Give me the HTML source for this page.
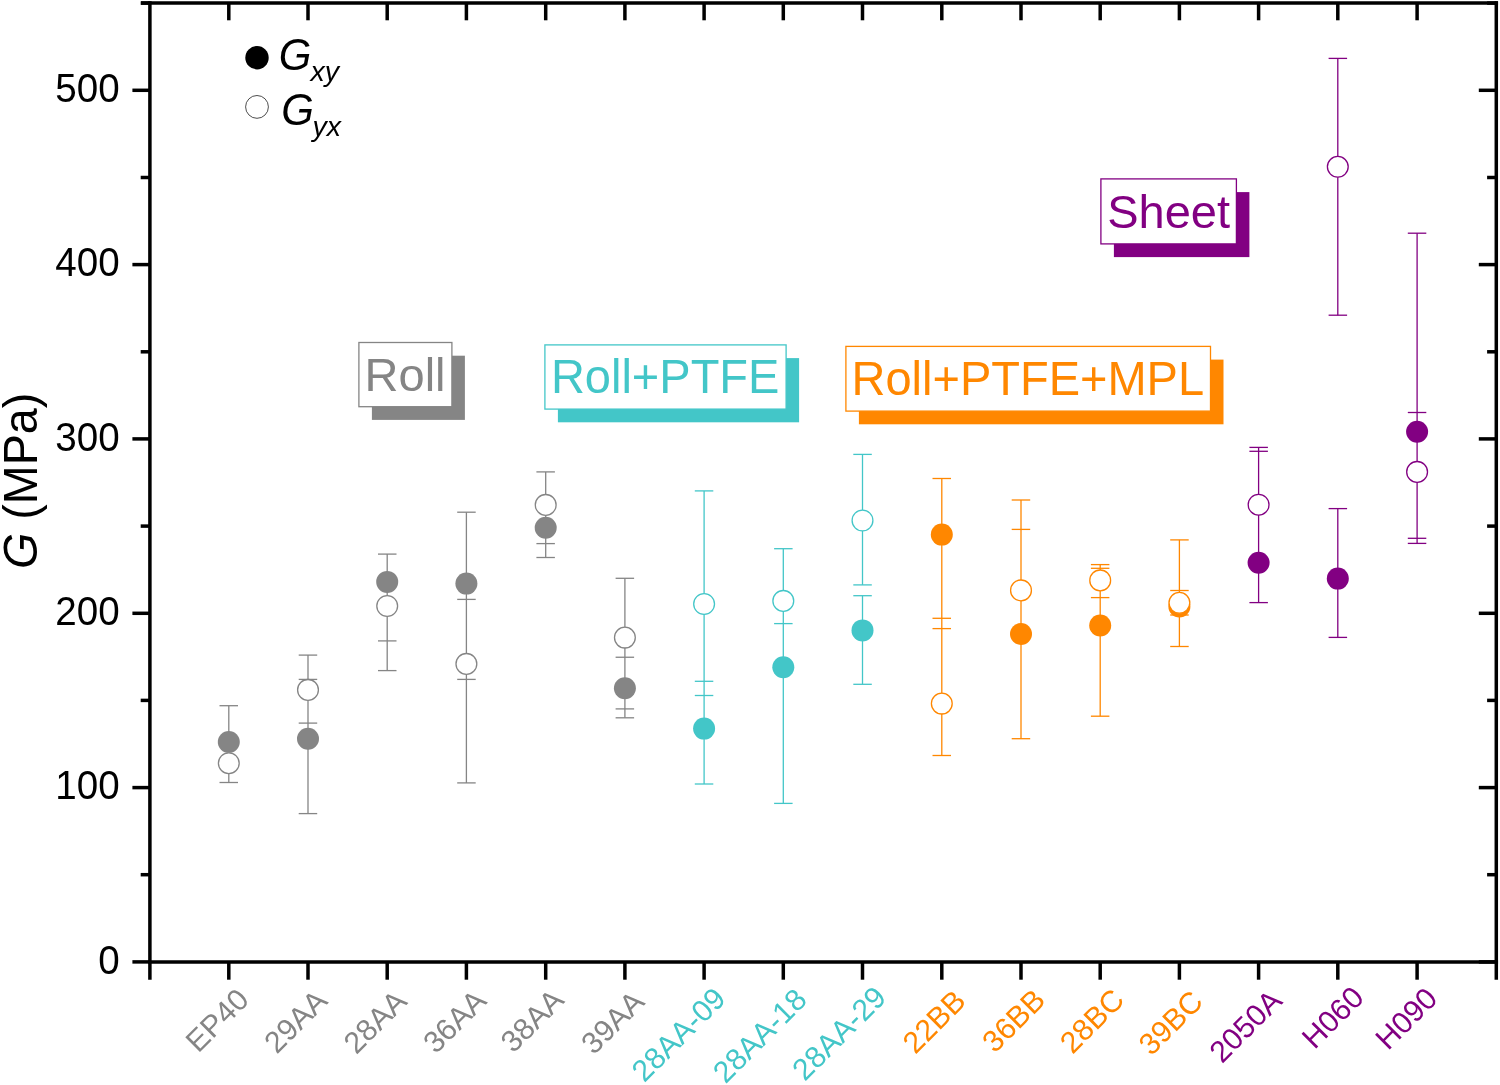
<!DOCTYPE html>
<html><head><meta charset="utf-8"><title>G (MPa) chart</title>
<style>html,body{margin:0;padding:0;background:#fff;}svg{display:block;}</style>
</head><body>
<svg width="1500" height="1085" viewBox="0 0 1500 1085">
<rect width="1500" height="1085" fill="#fff"/>
<g stroke="#000" stroke-width="3.5" fill="none" stroke-linecap="butt">
<line x1="141" y1="2.9" x2="1498.05" y2="2.9"/>
<line x1="149.9" y1="1.15" x2="149.9" y2="979.7"/>
<line x1="1496.3" y1="1.15" x2="1496.3" y2="979.7"/>
<line x1="148.15" y1="961.9" x2="1498.05" y2="961.9"/>
<line x1="228.8" y1="961.9" x2="228.8" y2="979.7"/>
<line x1="228.8" y1="2.9" x2="228.8" y2="20.3"/>
<line x1="308.0" y1="961.9" x2="308.0" y2="979.7"/>
<line x1="308.0" y1="2.9" x2="308.0" y2="20.3"/>
<line x1="387.2" y1="961.9" x2="387.2" y2="979.7"/>
<line x1="387.2" y1="2.9" x2="387.2" y2="20.3"/>
<line x1="466.4" y1="961.9" x2="466.4" y2="979.7"/>
<line x1="466.4" y1="2.9" x2="466.4" y2="20.3"/>
<line x1="545.7" y1="961.9" x2="545.7" y2="979.7"/>
<line x1="545.7" y1="2.9" x2="545.7" y2="20.3"/>
<line x1="624.9" y1="961.9" x2="624.9" y2="979.7"/>
<line x1="624.9" y1="2.9" x2="624.9" y2="20.3"/>
<line x1="704.1" y1="961.9" x2="704.1" y2="979.7"/>
<line x1="704.1" y1="2.9" x2="704.1" y2="20.3"/>
<line x1="783.3" y1="961.9" x2="783.3" y2="979.7"/>
<line x1="783.3" y1="2.9" x2="783.3" y2="20.3"/>
<line x1="862.5" y1="961.9" x2="862.5" y2="979.7"/>
<line x1="862.5" y1="2.9" x2="862.5" y2="20.3"/>
<line x1="941.8" y1="961.9" x2="941.8" y2="979.7"/>
<line x1="941.8" y1="2.9" x2="941.8" y2="20.3"/>
<line x1="1021.0" y1="961.9" x2="1021.0" y2="979.7"/>
<line x1="1021.0" y1="2.9" x2="1021.0" y2="20.3"/>
<line x1="1100.2" y1="961.9" x2="1100.2" y2="979.7"/>
<line x1="1100.2" y1="2.9" x2="1100.2" y2="20.3"/>
<line x1="1179.4" y1="961.9" x2="1179.4" y2="979.7"/>
<line x1="1179.4" y1="2.9" x2="1179.4" y2="20.3"/>
<line x1="1258.6" y1="961.9" x2="1258.6" y2="979.7"/>
<line x1="1258.6" y1="2.9" x2="1258.6" y2="20.3"/>
<line x1="1337.8" y1="961.9" x2="1337.8" y2="979.7"/>
<line x1="1337.8" y1="2.9" x2="1337.8" y2="20.3"/>
<line x1="1417.1" y1="961.9" x2="1417.1" y2="979.7"/>
<line x1="1417.1" y1="2.9" x2="1417.1" y2="20.3"/>
<line x1="132.4" y1="961.9" x2="149.9" y2="961.9"/>
<line x1="1496.3" y1="961.9" x2="1478.8" y2="961.9"/>
<line x1="140.70000000000002" y1="874.7" x2="149.9" y2="874.7"/>
<line x1="1496.3" y1="874.7" x2="1487.1" y2="874.7"/>
<line x1="132.4" y1="787.6" x2="149.9" y2="787.6"/>
<line x1="1496.3" y1="787.6" x2="1478.8" y2="787.6"/>
<line x1="140.70000000000002" y1="700.4" x2="149.9" y2="700.4"/>
<line x1="1496.3" y1="700.4" x2="1487.1" y2="700.4"/>
<line x1="132.4" y1="613.3" x2="149.9" y2="613.3"/>
<line x1="1496.3" y1="613.3" x2="1478.8" y2="613.3"/>
<line x1="140.70000000000002" y1="526.1" x2="149.9" y2="526.1"/>
<line x1="1496.3" y1="526.1" x2="1487.1" y2="526.1"/>
<line x1="132.4" y1="438.9" x2="149.9" y2="438.9"/>
<line x1="1496.3" y1="438.9" x2="1478.8" y2="438.9"/>
<line x1="140.70000000000002" y1="351.8" x2="149.9" y2="351.8"/>
<line x1="1496.3" y1="351.8" x2="1487.1" y2="351.8"/>
<line x1="132.4" y1="264.6" x2="149.9" y2="264.6"/>
<line x1="1496.3" y1="264.6" x2="1478.8" y2="264.6"/>
<line x1="140.70000000000002" y1="177.5" x2="149.9" y2="177.5"/>
<line x1="1496.3" y1="177.5" x2="1487.1" y2="177.5"/>
<line x1="132.4" y1="90.3" x2="149.9" y2="90.3"/>
<line x1="1496.3" y1="90.3" x2="1478.8" y2="90.3"/>
<line x1="140.70000000000002" y1="3.1" x2="149.9" y2="3.1"/>
<line x1="1496.3" y1="3.1" x2="1487.1" y2="3.1"/>
</g>
<g font-family="'Liberation Sans', Arial, sans-serif" font-size="38.6" fill="#000" text-anchor="end">
<text transform="translate(119.6,973.5) scale(1,1.035)">0</text>
<text transform="translate(119.6,799.2) scale(1,1.035)">100</text>
<text transform="translate(119.6,624.9) scale(1,1.035)">200</text>
<text transform="translate(119.6,450.5) scale(1,1.035)">300</text>
<text transform="translate(119.6,276.2) scale(1,1.035)">400</text>
<text transform="translate(119.6,101.9) scale(1,1.035)">500</text>
</g>
<text transform="translate(36.6,480.9) rotate(-90) scale(1,1.04)" font-family="'Liberation Sans', Arial, sans-serif" font-size="46.7" text-anchor="middle" fill="#000"><tspan font-style="italic">G</tspan> (MPa)</text>
<g stroke="#858585" stroke-width="1.3" fill="none">
<line x1="228.8" y1="705.7" x2="228.8" y2="782.5"/>
<line x1="219.5" y1="705.7" x2="238.0" y2="705.7"/>
<line x1="219.5" y1="782.5" x2="238.0" y2="782.5"/>
</g>
<g stroke="#858585" stroke-width="1.3" fill="none">
<line x1="308.0" y1="655.1" x2="308.0" y2="813.6"/>
<line x1="298.7" y1="655.1" x2="317.2" y2="655.1"/>
<line x1="298.7" y1="679.4" x2="317.2" y2="679.4"/>
<line x1="298.7" y1="723.1" x2="317.2" y2="723.1"/>
<line x1="298.7" y1="813.6" x2="317.2" y2="813.6"/>
</g>
<g stroke="#858585" stroke-width="1.3" fill="none">
<line x1="387.2" y1="554.1" x2="387.2" y2="670.6"/>
<line x1="378.0" y1="554.1" x2="396.5" y2="554.1"/>
<line x1="378.0" y1="640.9" x2="396.5" y2="640.9"/>
<line x1="378.0" y1="670.6" x2="396.5" y2="670.6"/>
</g>
<g stroke="#858585" stroke-width="1.3" fill="none">
<line x1="466.4" y1="512.2" x2="466.4" y2="782.9"/>
<line x1="457.2" y1="512.2" x2="475.7" y2="512.2"/>
<line x1="457.2" y1="599.4" x2="475.7" y2="599.4"/>
<line x1="457.2" y1="679.4" x2="475.7" y2="679.4"/>
<line x1="457.2" y1="782.9" x2="475.7" y2="782.9"/>
</g>
<g stroke="#858585" stroke-width="1.3" fill="none">
<line x1="545.7" y1="471.9" x2="545.7" y2="557.5"/>
<line x1="536.4" y1="471.9" x2="554.9" y2="471.9"/>
<line x1="536.4" y1="543.6" x2="554.9" y2="543.6"/>
<line x1="536.4" y1="557.5" x2="554.9" y2="557.5"/>
</g>
<g stroke="#858585" stroke-width="1.3" fill="none">
<line x1="624.9" y1="578.3" x2="624.9" y2="717.8"/>
<line x1="615.6" y1="578.3" x2="634.1" y2="578.3"/>
<line x1="615.6" y1="657.25" x2="634.1" y2="657.25"/>
<line x1="615.6" y1="708.9" x2="634.1" y2="708.9"/>
<line x1="615.6" y1="717.8" x2="634.1" y2="717.8"/>
</g>
<g stroke="#43C6C8" stroke-width="1.3" fill="none">
<line x1="704.1" y1="490.9" x2="704.1" y2="784.0"/>
<line x1="694.8" y1="490.9" x2="713.3" y2="490.9"/>
<line x1="694.8" y1="681.3" x2="713.3" y2="681.3"/>
<line x1="694.8" y1="695.5" x2="713.3" y2="695.5"/>
<line x1="694.8" y1="784.0" x2="713.3" y2="784.0"/>
</g>
<g stroke="#43C6C8" stroke-width="1.3" fill="none">
<line x1="783.3" y1="548.7" x2="783.3" y2="803.4"/>
<line x1="774.1" y1="548.7" x2="792.6" y2="548.7"/>
<line x1="774.1" y1="623.6" x2="792.6" y2="623.6"/>
<line x1="774.1" y1="803.4" x2="792.6" y2="803.4"/>
</g>
<g stroke="#43C6C8" stroke-width="1.3" fill="none">
<line x1="862.5" y1="454.4" x2="862.5" y2="584.9"/>
<line x1="862.5" y1="595.7" x2="862.5" y2="684.3"/>
<line x1="853.3" y1="454.4" x2="871.8" y2="454.4"/>
<line x1="853.3" y1="584.9" x2="871.8" y2="584.9"/>
<line x1="853.3" y1="595.7" x2="871.8" y2="595.7"/>
<line x1="853.3" y1="684.3" x2="871.8" y2="684.3"/>
</g>
<g stroke="#FF8700" stroke-width="1.3" fill="none">
<line x1="941.8" y1="478.5" x2="941.8" y2="755.5"/>
<line x1="932.5" y1="478.5" x2="951.0" y2="478.5"/>
<line x1="932.5" y1="618.3" x2="951.0" y2="618.3"/>
<line x1="932.5" y1="628.6" x2="951.0" y2="628.6"/>
<line x1="932.5" y1="755.5" x2="951.0" y2="755.5"/>
</g>
<g stroke="#FF8700" stroke-width="1.3" fill="none">
<line x1="1021.0" y1="500.0" x2="1021.0" y2="738.7"/>
<line x1="1011.7" y1="500.0" x2="1030.2" y2="500.0"/>
<line x1="1011.7" y1="529.4" x2="1030.2" y2="529.4"/>
<line x1="1011.7" y1="738.7" x2="1030.2" y2="738.7"/>
</g>
<g stroke="#FF8700" stroke-width="1.3" fill="none">
<line x1="1100.2" y1="564.6" x2="1100.2" y2="716.2"/>
<line x1="1090.9" y1="564.6" x2="1109.4" y2="564.6"/>
<line x1="1090.9" y1="568.3" x2="1109.4" y2="568.3"/>
<line x1="1090.9" y1="597.6" x2="1109.4" y2="597.6"/>
<line x1="1090.9" y1="716.2" x2="1109.4" y2="716.2"/>
</g>
<g stroke="#FF8700" stroke-width="1.3" fill="none">
<line x1="1179.4" y1="539.9" x2="1179.4" y2="646.5"/>
<line x1="1170.2" y1="539.9" x2="1188.7" y2="539.9"/>
<line x1="1170.2" y1="590.5" x2="1188.7" y2="590.5"/>
<line x1="1170.2" y1="615.0" x2="1188.7" y2="615.0"/>
<line x1="1170.2" y1="646.5" x2="1188.7" y2="646.5"/>
</g>
<g stroke="#820082" stroke-width="1.3" fill="none">
<line x1="1258.6" y1="447.4" x2="1258.6" y2="602.6"/>
<line x1="1249.4" y1="447.4" x2="1267.9" y2="447.4"/>
<line x1="1249.4" y1="451.3" x2="1267.9" y2="451.3"/>
<line x1="1249.4" y1="602.6" x2="1267.9" y2="602.6"/>
</g>
<g stroke="#820082" stroke-width="1.3" fill="none">
<line x1="1337.8" y1="58.4" x2="1337.8" y2="315.2"/>
<line x1="1337.8" y1="508.6" x2="1337.8" y2="637.4"/>
<line x1="1328.6" y1="58.4" x2="1347.1" y2="58.4"/>
<line x1="1328.6" y1="315.2" x2="1347.1" y2="315.2"/>
<line x1="1328.6" y1="508.6" x2="1347.1" y2="508.6"/>
<line x1="1328.6" y1="637.4" x2="1347.1" y2="637.4"/>
</g>
<g stroke="#820082" stroke-width="1.3" fill="none">
<line x1="1417.1" y1="233.2" x2="1417.1" y2="543.4"/>
<line x1="1407.8" y1="233.2" x2="1426.3" y2="233.2"/>
<line x1="1407.8" y1="412.5" x2="1426.3" y2="412.5"/>
<line x1="1407.8" y1="538.3" x2="1426.3" y2="538.3"/>
<line x1="1407.8" y1="543.4" x2="1426.3" y2="543.4"/>
</g>
<circle cx="228.8" cy="742.0" r="11" fill="#858585"/>
<circle cx="308.0" cy="738.8" r="11" fill="#858585"/>
<circle cx="387.2" cy="581.9" r="11" fill="#858585"/>
<circle cx="466.4" cy="583.6" r="11" fill="#858585"/>
<circle cx="545.7" cy="527.7" r="11" fill="#858585"/>
<circle cx="624.9" cy="688.2" r="11" fill="#858585"/>
<circle cx="704.1" cy="728.6" r="11" fill="#43C6C8"/>
<circle cx="783.3" cy="667.3" r="11" fill="#43C6C8"/>
<circle cx="862.5" cy="630.4" r="11" fill="#43C6C8"/>
<circle cx="941.8" cy="534.6" r="11" fill="#FF8700"/>
<circle cx="1021.0" cy="634.0" r="11" fill="#FF8700"/>
<circle cx="1100.2" cy="625.5" r="11" fill="#FF8700"/>
<circle cx="1179.4" cy="606.5" r="11" fill="#FF8700"/>
<circle cx="1258.6" cy="562.8" r="11" fill="#820082"/>
<circle cx="1337.8" cy="578.6" r="11" fill="#820082"/>
<circle cx="1417.1" cy="431.7" r="11" fill="#820082"/>
<circle cx="228.8" cy="763.2" r="10.4" fill="#fff" stroke="#858585" stroke-width="1.3"/>
<circle cx="308.0" cy="689.9" r="10.4" fill="#fff" stroke="#858585" stroke-width="1.3"/>
<circle cx="387.2" cy="606.0" r="10.4" fill="#fff" stroke="#858585" stroke-width="1.3"/>
<circle cx="466.4" cy="663.9" r="10.4" fill="#fff" stroke="#858585" stroke-width="1.3"/>
<circle cx="545.7" cy="504.9" r="10.4" fill="#fff" stroke="#858585" stroke-width="1.3"/>
<circle cx="624.9" cy="637.6" r="10.4" fill="#fff" stroke="#858585" stroke-width="1.3"/>
<circle cx="704.1" cy="604.0" r="10.4" fill="#fff" stroke="#43C6C8" stroke-width="1.3"/>
<circle cx="783.3" cy="600.9" r="10.4" fill="#fff" stroke="#43C6C8" stroke-width="1.3"/>
<circle cx="862.5" cy="520.5" r="10.4" fill="#fff" stroke="#43C6C8" stroke-width="1.3"/>
<circle cx="941.8" cy="703.6" r="10.4" fill="#fff" stroke="#FF8700" stroke-width="1.3"/>
<circle cx="1021.0" cy="590.4" r="10.4" fill="#fff" stroke="#FF8700" stroke-width="1.3"/>
<circle cx="1100.2" cy="580.4" r="10.4" fill="#fff" stroke="#FF8700" stroke-width="1.3"/>
<circle cx="1179.4" cy="602.8" r="10.4" fill="#fff" stroke="#FF8700" stroke-width="1.3"/>
<circle cx="1258.6" cy="504.7" r="10.4" fill="#fff" stroke="#820082" stroke-width="1.3"/>
<circle cx="1337.8" cy="166.8" r="10.4" fill="#fff" stroke="#820082" stroke-width="1.3"/>
<circle cx="1417.1" cy="471.9" r="10.4" fill="#fff" stroke="#820082" stroke-width="1.3"/>
<g font-family="'Liberation Sans', Arial, sans-serif" font-size="30.2" text-anchor="end">
<text transform="translate(250.6,1001.4) rotate(-45)" fill="#858585">EP40</text>
<text transform="translate(329.0,1002.4) rotate(-45)" fill="#858585">29AA</text>
<text transform="translate(408.4,1002.9) rotate(-45)" fill="#858585">28AA</text>
<text transform="translate(487.9,1002.6) rotate(-45)" fill="#858585">36AA</text>
<text transform="translate(565.5,1001.8) rotate(-45)" fill="#858585">38AA</text>
<text transform="translate(646.1,1003.4) rotate(-45)" fill="#858585">39AA</text>
<text transform="translate(727.4,1000.3) rotate(-45)" fill="#43C6C8">28AA-09</text>
<text transform="translate(808.6,1001.4) rotate(-45)" fill="#43C6C8">28AA-18</text>
<text transform="translate(887.9,999.0) rotate(-45)" fill="#43C6C8">28AA-29</text>
<text transform="translate(967.5,1002.7) rotate(-45)" fill="#FF8700">22BB</text>
<text transform="translate(1047.0,1001.7) rotate(-45)" fill="#FF8700">36BB</text>
<text transform="translate(1125.9,1001.5) rotate(-45)" fill="#FF8700">28BC</text>
<text transform="translate(1204.6,1003.3) rotate(-45)" fill="#FF8700">39BC</text>
<text transform="translate(1283.7,1002.4) rotate(-45)" fill="#820082">2050A</text>
<text transform="translate(1365.6,999.2) rotate(-45)" fill="#820082">H060</text>
<text transform="translate(1439.0,1000.3) rotate(-45)" fill="#820082">H090</text>
</g>
<rect x="371.9" y="355.7" width="93.0" height="64.2" fill="#858585"/>
<rect x="358.9" y="342.5" width="93.0" height="64.2" fill="#fff" stroke="#858585" stroke-width="1.3"/>
<text transform="translate(364.6,390.8) scale(1,1.0)" font-family="'Liberation Sans', Arial, sans-serif" font-size="47" fill="#858585">Roll</text>
<rect x="557.9" y="358.1" width="241.2" height="64.2" fill="#43C6C8"/>
<rect x="544.9" y="344.9" width="241.2" height="64.2" fill="#fff" stroke="#43C6C8" stroke-width="1.3"/>
<text transform="translate(550.9,393.3) scale(1,1.04)" font-family="'Liberation Sans', Arial, sans-serif" font-size="47" fill="#43C6C8">Roll+PTFE</text>
<rect x="858.9" y="359.6" width="364.6" height="64.7" fill="#FF8700"/>
<rect x="845.9" y="346.4" width="364.6" height="64.7" fill="#fff" stroke="#FF8700" stroke-width="1.3"/>
<text transform="translate(851.5,394.9) scale(1,1.04)" font-family="'Liberation Sans', Arial, sans-serif" font-size="47" fill="#FF8700">Roll+PTFE+MPL</text>
<rect x="1113.9" y="192.1" width="135.5" height="65.0" fill="#820082"/>
<rect x="1100.9" y="178.9" width="135.5" height="65.0" fill="#fff" stroke="#820082" stroke-width="1.3"/>
<text transform="translate(1107.2,227.8) scale(1,1.0)" font-family="'Liberation Sans', Arial, sans-serif" font-size="47" fill="#820082">Sheet</text>
<circle cx="257" cy="57.7" r="11.7" fill="#000"/>
<circle cx="257" cy="106.9" r="11.4" fill="#fff" stroke="#000" stroke-width="0.7"/>
<text transform="translate(278.8,70.1) scale(1,1.075)" font-family="'Liberation Sans', Arial, sans-serif" font-size="42" font-style="italic" fill="#000">G</text>
<text x="310.5" y="81.1" font-family="'Liberation Sans', Arial, sans-serif" font-size="28.5" font-style="italic" fill="#000">xy</text>
<text transform="translate(281.3,124.9) scale(1,1.075)" font-family="'Liberation Sans', Arial, sans-serif" font-size="42" font-style="italic" fill="#000">G</text>
<text x="312.5" y="136.0" font-family="'Liberation Sans', Arial, sans-serif" font-size="28.5" font-style="italic" fill="#000">yx</text>
</svg>
</body></html>
